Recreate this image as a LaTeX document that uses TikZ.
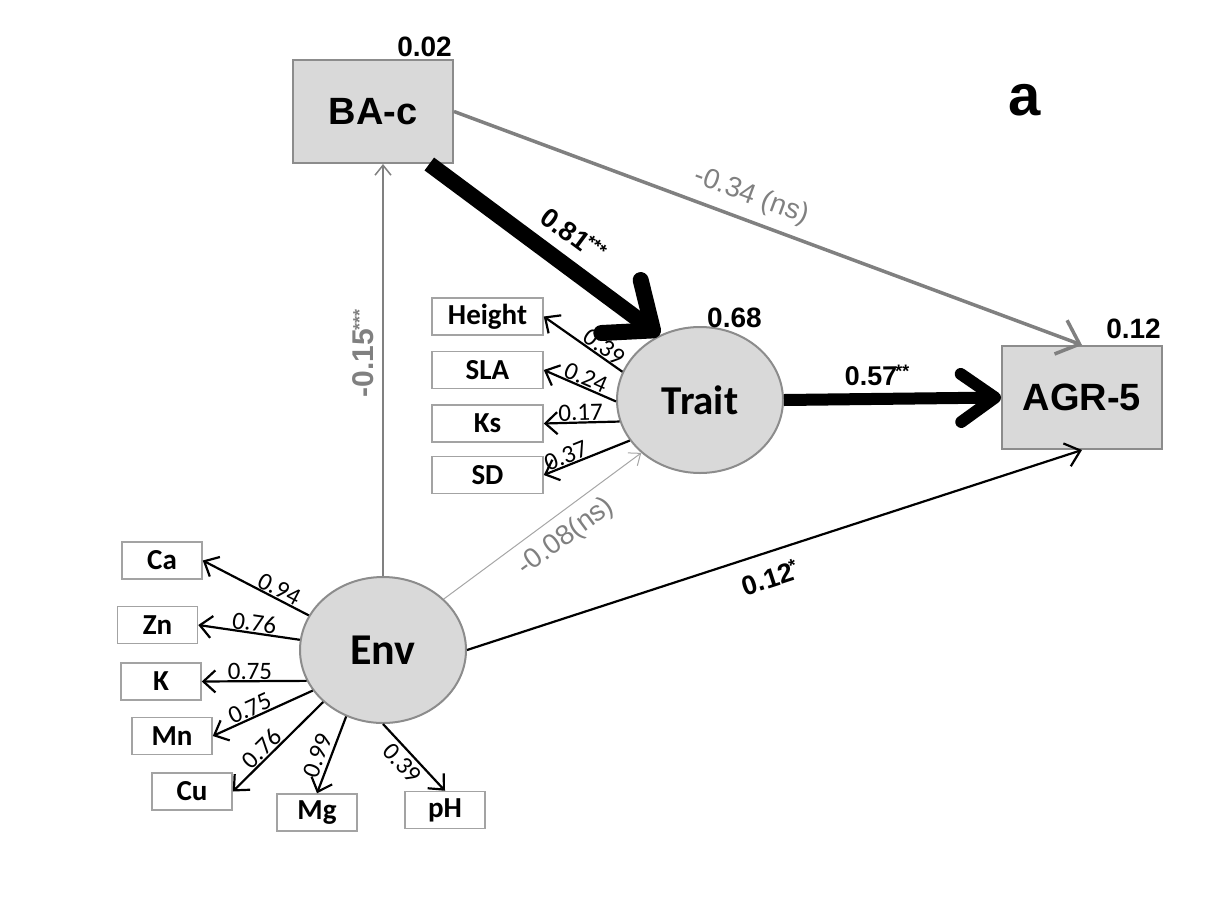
\documentclass[tikz,border=0pt]{standalone}
\usepackage{fontspec}
\setmainfont{Liberation Sans}
\newfontfamily\calib{Carlito}
\usetikzlibrary{arrows.meta,positioning,shapes.geometric}
\definecolor{boxgray}{HTML}{D9D9D9}
\definecolor{edgegray}{HTML}{8C8C8C}
\definecolor{pathgray}{HTML}{808080}
\definecolor{lightpath}{HTML}{A6A6A6}
\newcommand{\signif}[1]{\kern-2pt\raisebox{8pt}{\fontsize{18}{18}\selectfont #1}}
\tikzset{
  construct/.style={draw=edgegray, fill=boxgray, line width=2pt, minimum width=160pt, minimum height=103pt, font=\fontsize{38}{42}\selectfont\bfseries},
  latent/.style={ellipse, draw=edgegray, fill=boxgray, line width=2pt, minimum width=166pt, minimum height=146pt, inner sep=0pt, font=\calib\fontsize{41}{46}\selectfont\bfseries},
  indicator/.style={draw=edgegray!80, fill=white, line width=1.5pt, minimum width=80pt, minimum height=37pt, inner sep=0pt, font=\calib\fontsize{29}{32}\selectfont\bfseries},
  rsq/.style={font=\fontsize{28}{30}\selectfont\bfseries, inner sep=2pt},
  loading/.style={black, line width=2.2pt, -{Straight Barb[length=12pt,width=22pt]}},
  loadnum/.style={font=\calib\fontsize{25}{27}\selectfont, sloped, inner sep=0.5pt},
  coef/.style={font=\fontsize{27}{30}\selectfont\bfseries, sloped},
  nscoef/.style={font=\fontsize{28}{30}\selectfont, sloped, text=pathgray}
}
\begin{document}
\begin{tikzpicture}[x=1pt, y=-1pt]
  \useasboundingbox (0,0) rectangle (1222,910);
  % constructs
  \node[construct] (bac) at (373,111.5) {BA-c};
  \node[construct] (agr) at (1082,397.5) {AGR-5};
  \node[latent] (trait) at (700,400) {Trait};
  \node[latent, font=\calib\fontsize{44}{48}\selectfont\bfseries] (env) at (383,650) {Env};
  \node[rsq, anchor=south east] (bacr) at (bac.north east) {0.02};
  \node[rsq, anchor=south west] (traitr) at ([xshift=5pt,yshift=-4pt]trait.north) {0.68};
  \node[rsq, anchor=south east] (agrr) at ([yshift=4pt]agr.north east) {0.12};
  \node[font=\fontsize{58}{60}\selectfont\bfseries] (panel) at (1025,100) {a};
  % trait indicators
  \node[indicator, minimum width=111pt] (height) at (487.5,316.5) {Height};
  \node[indicator, minimum width=111pt] (sla) at (487.5,370) {SLA};
  \node[indicator, minimum width=111pt] (ks) at (487.5,423.5) {Ks};
  \node[indicator, minimum width=111pt] (sd) at (487.5,475) {SD};
  % soil indicators
  \node[indicator] (ca) at (162,560.5) {Ca};
  \node[indicator] (zn) at (157.5,625) {Zn};
  \node[indicator] (k) at (161,681.5) {K};
  \node[indicator] (mn) at (172,736) {Mn};
  \node[indicator] (cu) at (192,791.5) {Cu};
  \node[indicator] (mg) at (317,812.5) {Mg};
  \node[indicator] (ph) at (445,810) {pH};
  % structural paths
  \draw[line width=16pt, -{Straight Barb[length=40pt,width=66pt,round]}] (bac.-43) -- (trait.122)
    node[coef, pos=0.55, above=8pt] {0.81\signif{***}};
  \draw[pathgray, line width=3.5pt, -{Straight Barb[length=20pt,width=36pt]}] (bac.east) -- (agr.north)
    node[nscoef, pos=0.46, above=6pt] {-0.34 (ns)};
  \draw[line width=12pt, -{Straight Barb[length=34pt,width=48pt,round]}] (trait.east) -- (agr.west)
    node[coef, pos=0.43, above=4pt] {0.57\signif{**}};
  \draw[pathgray, line width=1.5pt, -{Straight Barb[length=10pt,width=16pt]}] (env.north) -- (env.north |- bac.south)
    node[coef, text=pathgray, font=\fontsize{30}{32}\selectfont\bfseries, pos=0.54, above=5pt] {-0.15\signif{***}};
  \draw[lightpath, line width=1pt, -{Straight Barb[length=10pt,width=16pt]}] (env.40) -- (trait.222)
    node[nscoef, pos=0.55, below=6pt] {-0.08(ns)};
  \draw[line width=2.2pt, -{Straight Barb[length=14pt,width=24pt]}] (env.east) -- (agr.south)
    node[coef, pos=0.48, below=10pt] {0.12\signif{*}};
  % loadings
  \foreach \n/\a/\v/\p in {height/160/0.39/0.3, sla/181/0.24/0.47, ks/195/0.17/0.51, sd/210/0.37/0.7}{
    \draw[loading] (trait.\a) -- (\n.east) node[loadnum, pos=\p, above] {\v};
  }
  \foreach \n/\a/\v/\p in {ca/155/0.94/0.32, zn/173/0.76/0.46, k/202/0.75/0.54, mn/210/0.75/0.59, cu/221/0.76/0.6}{
    \draw[loading] (env.\a) -- (\n.east) node[loadnum, pos=\p, above] {\v};
  }
  \draw[loading] (env.241) -- (mg.north) node[loadnum, pos=0.57, above=3pt] {0.99};
  \draw[loading] (env.270) -- (ph.north) node[loadnum, pos=0.46, below=3pt] {0.39};
\end{tikzpicture}
\end{document}
